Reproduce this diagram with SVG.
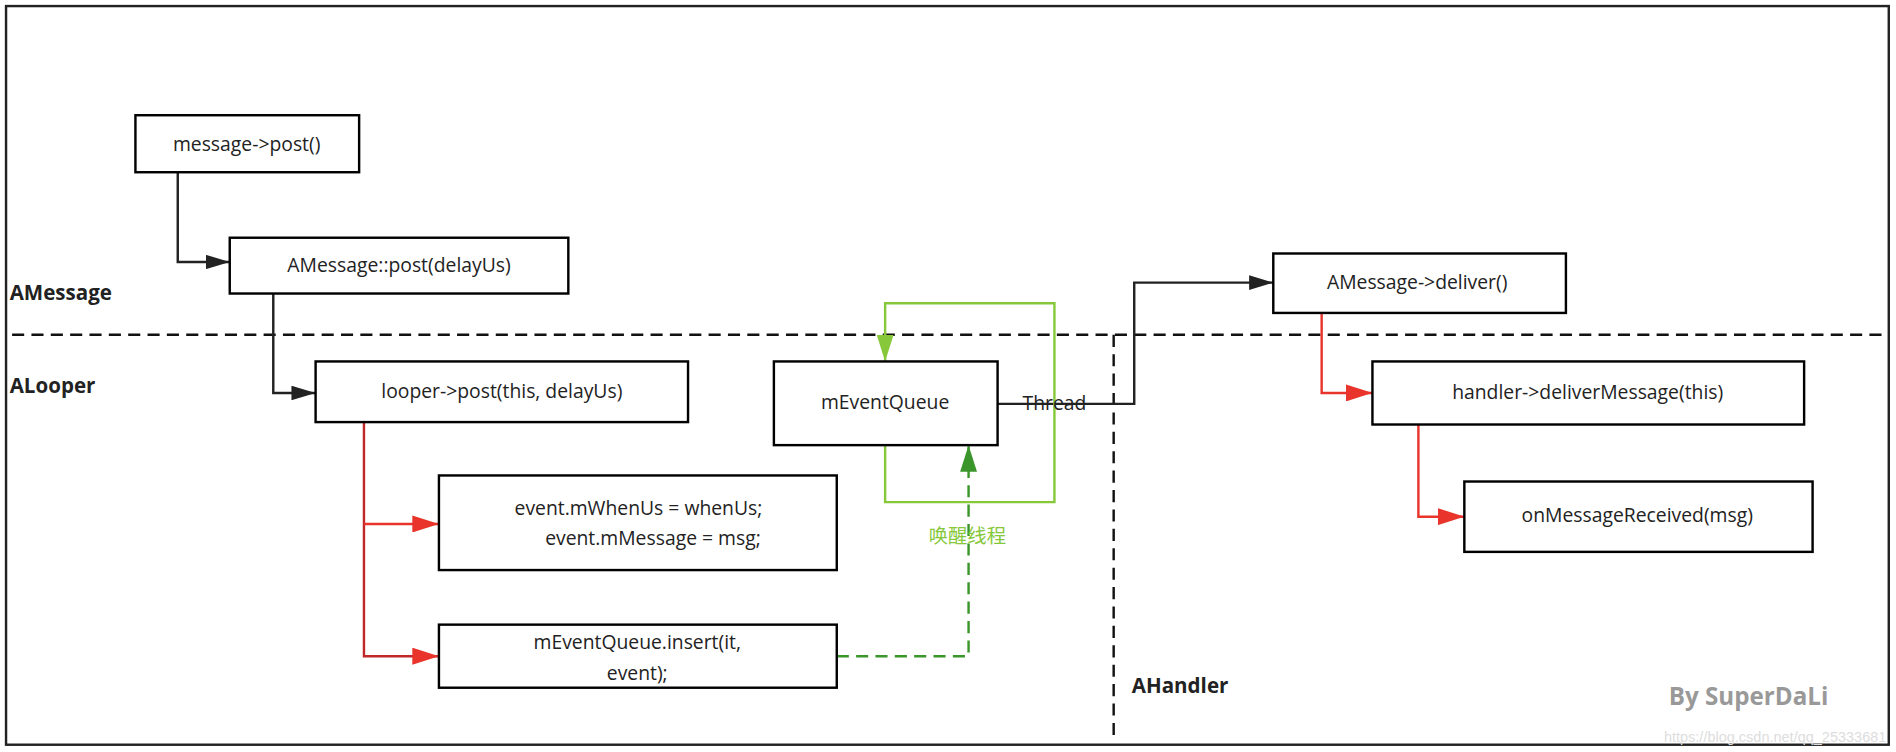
<svg xmlns="http://www.w3.org/2000/svg" width="1896" height="752" viewBox="0 0 1896 752">
<style>
.n{fill:#fff;stroke:#000;stroke-width:2}
.t{font-family:"Open Sans","DejaVu Sans",sans-serif;font-size:16px;fill:#222;text-anchor:middle;dominant-baseline:middle}
.l{font-family:"Open Sans","DejaVu Sans",sans-serif;font-size:17px;font-weight:bold;fill:#222}
.k{fill:none;stroke:#222;stroke-width:2}
.r{fill:none;stroke:#e8342a;stroke-width:2}
</style>
<defs>
<marker id="ak" markerWidth="20" markerHeight="12" refX="20" refY="6" orient="auto" markerUnits="userSpaceOnUse"><path d="M0,0L20,6L0,12z" fill="#222"/></marker>
<marker id="ar" markerWidth="22" markerHeight="14" refX="22" refY="7" orient="auto" markerUnits="userSpaceOnUse"><path d="M0,0L22,7L0,14z" fill="#e8342a"/></marker>
<marker id="ag" markerWidth="22" markerHeight="14" refX="22" refY="7" orient="auto" markerUnits="userSpaceOnUse"><path d="M0,0L22,7L0,14z" fill="#86c83a"/></marker>
<marker id="adg" markerWidth="22" markerHeight="14" refX="22" refY="7" orient="auto" markerUnits="userSpaceOnUse"><path d="M0,0L22,7L0,14z" fill="#3a962a"/></marker>
</defs>
<g transform="scale(1.2092,1.2129)">
<rect x="5" y="5" width="1557" height="609" fill="#fff" stroke="#222" stroke-width="2"/>
<g id="dividers" fill="none" stroke="#111" stroke-width="2" stroke-dasharray="10,6">
<line x1="10" y1="276" x2="1560" y2="276"/>
<line x1="921" y1="276" x2="921" y2="610"/>
</g>
<text class="l" x="8" y="247">AMessage</text>
<text class="l" x="8" y="324">ALooper</text>
<text class="l" x="936" y="571">AHandler</text>
<text x="1512" y="581" text-anchor="end" style="font-family:'Open Sans','DejaVu Sans',sans-serif;font-size:20px;font-weight:bold;fill:#999">By SuperDaLi</text>
<text x="1560" y="612" text-anchor="end" style="font-family:'Liberation Sans',sans-serif;font-size:12px;fill:#ddd">https://blog.csdn.net/qq_25333681</text>
<g id="connectors">
<path class="k" d="M147,142V216H190" marker-end="url(#ak)"/>
<path class="k" d="M226,242V324H261" marker-end="url(#ak)"/>
<path class="k" d="M825,333H938V233H1053" marker-end="url(#ak)"/>
<path class="r" d="M301,348V541H363" marker-end="url(#ar)" style="stroke:#c0282a"/>
<path class="r" d="M301,432H363" marker-end="url(#ar)"/>
<path class="r" d="M1093,258V324H1135" marker-end="url(#ar)"/>
<path class="r" d="M1173,350V426H1211" marker-end="url(#ar)"/>
<path d="M732,367V414H872V250H732V298" fill="none" stroke="#86c83a" stroke-width="2" marker-end="url(#ag)"/>
<path d="M692,541H801V367" fill="none" stroke="#3a962a" stroke-width="2" stroke-dasharray="10,6" marker-end="url(#adg)"/>
<text x="872" y="334" class="t">Thread</text>
<text x="800" y="443" class="t" style="fill:#86c83a;font-family:'Noto Sans CJK SC',sans-serif">唤醒线程</text>
</g>
<g id="n1"><rect class="n" x="112" y="95" width="185" height="47"/><text class="t" x="204" y="120">message-&gt;post()</text></g>
<g id="n2"><rect class="n" x="190" y="196" width="280" height="46"/><text class="t" x="330" y="220">AMessage::post(delayUs)</text></g>
<g id="n3"><rect class="n" x="261" y="298" width="308" height="50"/><text class="t" x="415" y="324">looper-&gt;post(this, delayUs)</text></g>
<g id="n4"><rect class="n" x="363" y="392" width="329" height="78"/><text class="t" x="528" y="420">event.mWhenUs = whenUs;</text><text class="t" x="540" y="445">event.mMessage = msg;</text></g>
<g id="n5"><rect class="n" x="363" y="515" width="329" height="52"/><text class="t" x="527" y="531">mEventQueue.insert(it,</text><text class="t" x="527" y="556">event);</text></g>
<g id="n6"><rect class="n" x="640" y="298" width="185" height="69"/><text class="t" x="732" y="333">mEventQueue</text></g>
<g id="n7"><rect class="n" x="1053" y="209" width="242" height="49"/><text class="t" x="1172" y="234">AMessage-&gt;deliver()</text></g>
<g id="n8"><rect class="n" x="1135" y="298" width="357" height="52"/><text class="t" x="1313" y="325">handler-&gt;deliverMessage(this)</text></g>
<g id="n9"><rect class="n" x="1211" y="397" width="288" height="58"/><text class="t" x="1354" y="426">onMessageReceived(msg)</text></g>
</g>
</svg>
